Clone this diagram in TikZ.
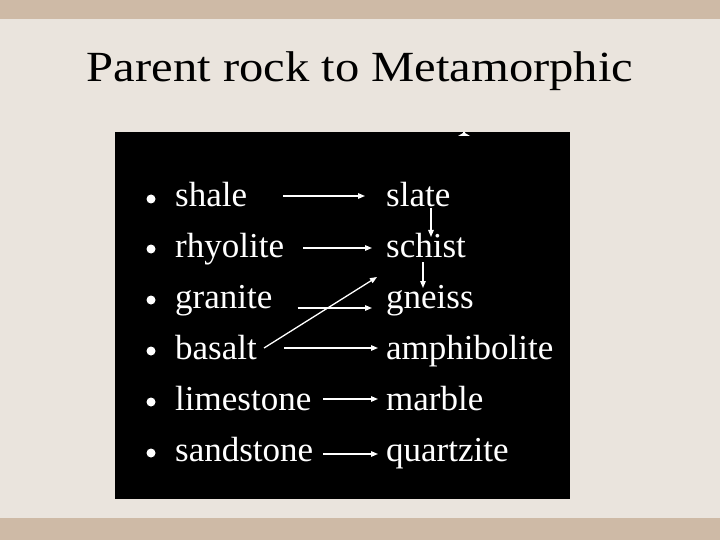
\documentclass[tikz,border=0pt]{standalone}
\usepackage{fontspec}
\usepackage{xcolor}
\usepackage{tikz}
\usetikzlibrary{arrows.meta}

\newfontfamily\bodyfont{Liberation Serif}

\definecolor{marbleDark}{RGB}{206,186,166}
\definecolor{marbleLight}{RGB}{234,228,221}

\tikzset{
  rock/.style={font=\bodyfont\fontsize{35}{40}\selectfont, text=white, inner sep=0pt},
  flow/.style={white, line width=1.3pt, -{Triangle[length=7pt, width=5.5pt]}},
}

\begin{document}
\begin{tikzpicture}[x=1pt, y=-1pt]
\useasboundingbox (0,0) rectangle (720,540);

% Marble background
\fill[marbleDark] (0,0) rectangle (720,540);
\fill[marbleLight] (0,19) rectangle (720,518);

% Title
\node[anchor=base, inner sep=0pt, xscale=1.13, font=\bodyfont\fontsize{43}{50}\selectfont] (title) at (360,82) {Parent rock to Metamorphic};

% Black panel
\fill[black] (115,132) rectangle (570,499);
\fill[white] (458,136) -- (470,136) -- (465,133) -- (465,132) -- (463,132) -- (463,133) -- cycle;

% Parent rocks and their metamorphic rocks
\foreach \src/\dst/\y/\off/\cut/\lift in {
    shale/slate/207/36/21/11,
    rhyolite/schist/257/19/14/9,
    granite/gneiss/308/25/14/0,
    basalt/amphibolite/359/27/8/11,
    limestone/marble/410/12/8/11,
    sandstone/quartzite/461/10/8/7
} {
    \fill[white] (151,\y-8) circle (4.5);
    \node[rock, anchor=base west] (\src) at (175,\y) {\src};
    \node[rock, anchor=base west] (\dst) at (386,\y) {\dst};
    \draw[flow] ([xshift=\off, yshift=\lift]\src.base east) -- ([xshift=-\cut, yshift=\lift]\dst.base west);
}

% Further steps
\draw[flow] ([xshift=45, yshift=-1]slate.base west) -- ([xshift=45, yshift=20]schist.base west);
\draw[flow] ([xshift=37, yshift=-5]schist.base west) -- ([xshift=37, yshift=20]gneiss.base west);
\draw[flow] ([xshift=7, yshift=11]basalt.base east) -- ([xshift=-9, yshift=-20]schist.base west);

\end{tikzpicture}
\end{document}
